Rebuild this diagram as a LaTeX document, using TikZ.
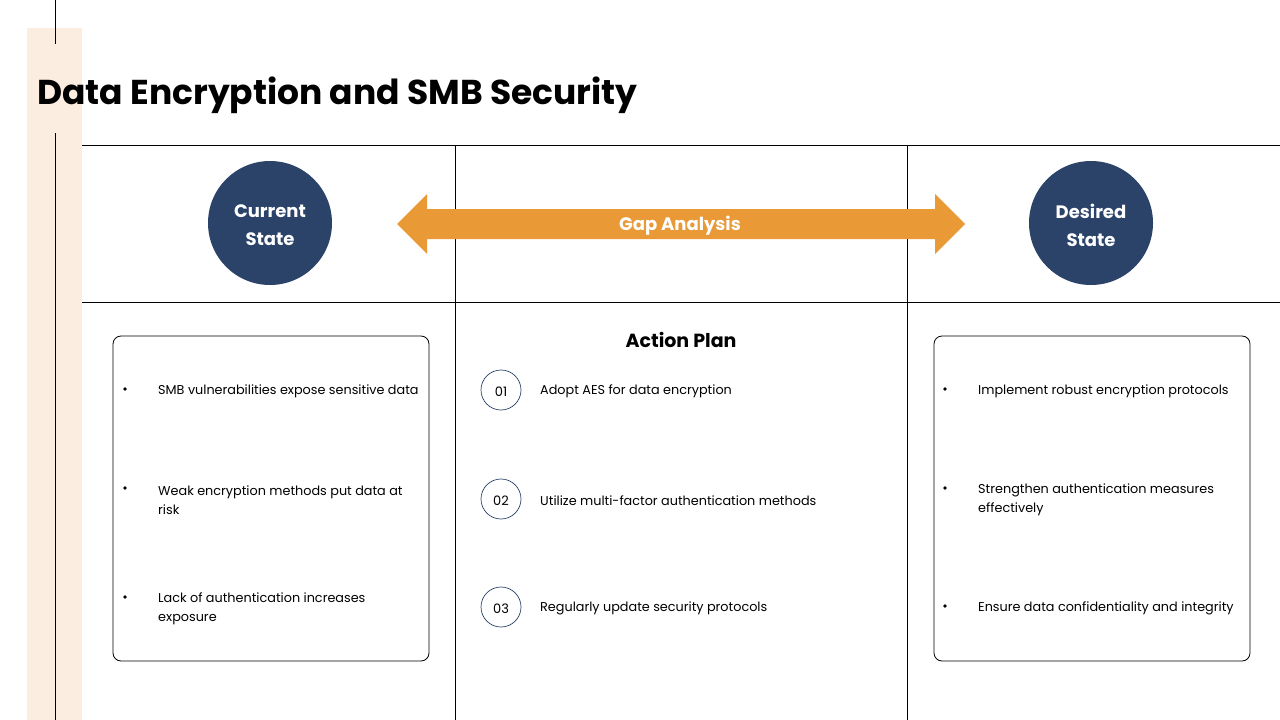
\documentclass[tikz,border=0pt]{standalone}
\usepackage{fontspec}
\setmainfont{Poppins}
\definecolor{navy}{HTML}{2B4369}
\definecolor{gaporange}{HTML}{E99A37}
\definecolor{peach}{HTML}{FBEEE0}
\begin{document}
\begin{tikzpicture}[x=1pt,y=-1pt,
  rule/.style={draw=black,line width=0.9pt},
  statecircle/.style={circle,fill=navy,minimum size=124pt,inner sep=0pt,text=white,align=center,font=\fontsize{18}{28}\selectfont\bfseries},
  listbox/.style={draw=black,line width=0.8pt,rounded corners=8pt},
  bullettext/.style={anchor=west,align=left,inner sep=0pt,font=\fontsize{12.8}{19}\selectfont},
  bulletdot/.style={circle,fill=black,inner sep=0pt,minimum size=3.6pt},
  numcircle/.style={circle,draw=navy,line width=0.7pt,minimum size=40pt,inner sep=0pt,font=\fontsize{13}{16}\selectfont}
]
\useasboundingbox (0,0) rectangle (1280,720);
\fill[white] (0,0) rectangle (1280,720);
% left decorative strip
\fill[peach] (27,28) rectangle (82,720);
\draw[rule] (55,0) -- (55,44);
\draw[rule] (55,133) -- (55,720);
% title
\node[anchor=base west,inner sep=0pt,font=\fontsize{34.5}{40}\selectfont\bfseries] (title) at (37,104) {Data Encryption and SMB Security};
% grid lines
\coordinate (h1l) at (82,145); \coordinate (h1r) at (1280,145);
\coordinate (h2l) at (82,302); \coordinate (h2r) at (1280,302);
\coordinate (v1t) at (455,145); \coordinate (v1b) at (455,720);
\coordinate (v2t) at (907,145); \coordinate (v2b) at (907,720);
\draw[rule] (h1l) -- (h1r);
\draw[rule] (h2l) -- (h2r);
\draw[rule] (v1t) -- (v1b);
\draw[rule] (v2t) -- (v2b);
% gap arrow
\fill[gaporange] (397,224) -- (427,194) -- (427,209) -- (935,209) -- (935,194) -- (965,224) -- (935,254) -- (935,239) -- (427,239) -- (427,254) -- cycle;
\node[text=white,font=\fontsize{18}{22}\selectfont\bfseries] (gap) at (680,226) {Gap Analysis};
% state circles
\node[statecircle] (cur) at (270,223) {};
\node[text=white,align=center,font=\fontsize{18}{28}\selectfont\bfseries] (curt) at (270,225) {Current\\State};
\node[statecircle] (des) at (1091,223) {};
\node[text=white,align=center,font=\fontsize{18}{28}\selectfont\bfseries] (dest) at (1091,225) {Desired\\State};
% left box
\draw[listbox] (113,336) rectangle (429,661);
\node[bulletdot] (lb1) at (125,389) {};
\node[bullettext] (lt1) at (158,391.5) {SMB vulnerabilities expose sensitive data};
\node[bulletdot] (lb2) at (125,488) {};
\node[bullettext] (lt2) at (158,500) {Weak encryption methods put data at\\risk};
\node[bulletdot] (lb3) at (125,597) {};
\node[bullettext] (lt3) at (158,609) {Lack of authentication increases\\exposure};
% action plan
\node[font=\fontsize{19}{24}\selectfont\bfseries] (ap) at (681,340) {Action Plan};
\node[numcircle] (n1) at (501,390) {};
\node[font=\fontsize{13}{16}\selectfont] (n1t) at (501,391.5) {01};
\node[bullettext] (a1) at (540,391.5) {Adopt AES for data encryption};
\node[numcircle] (n2) at (501,499) {};
\node[font=\fontsize{13}{16}\selectfont] (n2t) at (501,500.5) {02};
\node[bullettext] (a2) at (540,500.5) {Utilize multi-factor authentication methods};
\node[numcircle] (n3) at (501,607) {};
\node[font=\fontsize{13}{16}\selectfont] (n3t) at (501,608.5) {03};
\node[bullettext] (a3) at (540,608.5) {Regularly update security protocols};
% right box
\draw[listbox] (934,336) rectangle (1250,661);
\node[bulletdot] (rb1) at (945,389) {};
\node[bullettext] (rt1) at (978,391.5) {Implement robust encryption protocols};
\node[bulletdot] (rb2) at (945,488) {};
\node[bullettext] (rt2) at (978,500) {Strengthen authentication measures\\effectively};
\node[bulletdot] (rb3) at (945,606) {};
\node[bullettext] (rt3) at (978,608.5) {Ensure data confidentiality and integrity};
\end{tikzpicture}
\end{document}
